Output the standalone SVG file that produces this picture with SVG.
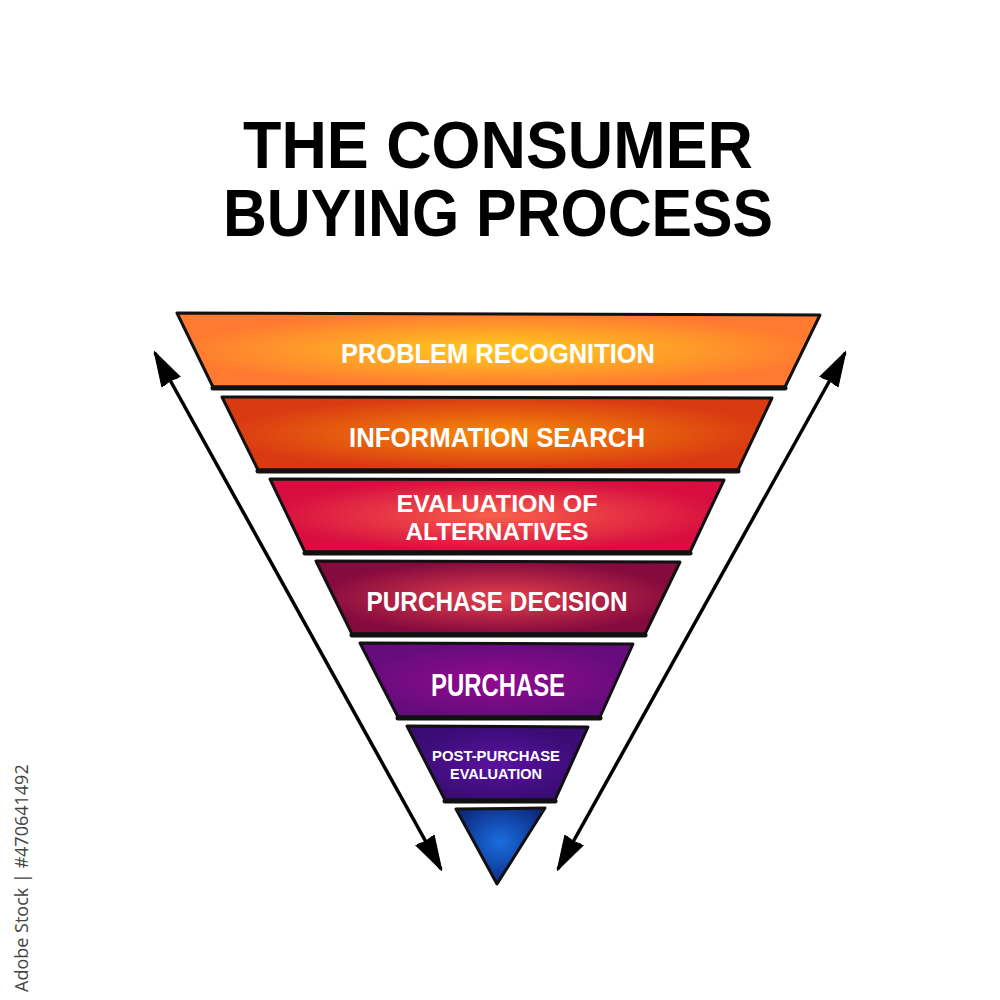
<svg xmlns="http://www.w3.org/2000/svg" width="1000" height="1000" viewBox="0 0 1000 1000">
<style>
.band{stroke:#111;stroke-width:3;stroke-linejoin:round}
.base{stroke:#111;stroke-width:5;stroke-linecap:round;fill:none}
.lbl{font-family:"Liberation Sans","DejaVu Sans",sans-serif;font-weight:bold;fill:#fff;text-anchor:middle}
.title{font-family:"Liberation Sans","DejaVu Sans",sans-serif;font-weight:bold;fill:#000;text-anchor:middle;font-size:66px}
.conn{stroke:#000;stroke-width:3.5;fill:none}
</style>
<defs>
<radialGradient id="g1" cx="0.5" cy="0.5" r="0.5"><stop offset="0" stop-color="#FFCB1E"/><stop offset="1" stop-color="#FF7A30"/></radialGradient>
<radialGradient id="g2" cx="0.5" cy="0.5" r="0.5"><stop offset="0" stop-color="#F7890A"/><stop offset="1" stop-color="#D93A12"/></radialGradient>
<radialGradient id="g3" cx="0.5" cy="0.5" r="0.5"><stop offset="0" stop-color="#F7604A"/><stop offset="1" stop-color="#D80E40"/></radialGradient>
<radialGradient id="g4" cx="0.5" cy="0.5" r="0.5"><stop offset="0" stop-color="#E4404C"/><stop offset="1" stop-color="#850A3E"/></radialGradient>
<radialGradient id="g5" cx="0.5" cy="0.5" r="0.5"><stop offset="0" stop-color="#920A90"/><stop offset="1" stop-color="#660C7C"/></radialGradient>
<radialGradient id="g6" cx="0.5" cy="0.5" r="0.5"><stop offset="0" stop-color="#5A12A0"/><stop offset="1" stop-color="#3A0C74"/></radialGradient>
<radialGradient id="g7" cx="0.5" cy="0.45" r="0.55"><stop offset="0" stop-color="#1A6EE0"/><stop offset="1" stop-color="#0C2C84"/></radialGradient>
<marker id="ah" viewBox="0 0 20 12" refX="19" refY="6" markerWidth="10" markerHeight="6.5" markerUnits="strokeWidth" orient="auto-start-reverse">
<path d="M0,0 L20,6 L0,12 L1,6 Z" fill="#000" stroke="#000" stroke-width="0.6" stroke-linejoin="round"/>
</marker>
</defs>

<g id="title">
<text class="title" x="498" y="168" textLength="510" lengthAdjust="spacingAndGlyphs">THE CONSUMER</text>
<text class="title" x="498" y="236" textLength="550" lengthAdjust="spacingAndGlyphs">BUYING PROCESS</text>
</g>

<g id="connectors">
<line class="conn" x1="155" y1="353" x2="441" y2="869" marker-start="url(#ah)" marker-end="url(#ah)"/>
<line class="conn" x1="845" y1="353" x2="558" y2="869" marker-start="url(#ah)" marker-end="url(#ah)"/>
</g>

<g id="problem-recognition">
<polygon class="band" fill="url(#g1)" points="177,313 820,315 785,387 213,387"/>
<line class="base" x1="213" y1="388" x2="785" y2="388"/>
<text class="lbl" x="498" y="363" font-size="28" textLength="314" lengthAdjust="spacingAndGlyphs">PROBLEM RECOGNITION</text>
</g>

<g id="information-search">
<polygon class="band" fill="url(#g2)" points="222,397 772,398 738,470 258,470"/>
<line class="base" x1="258" y1="471" x2="738" y2="471"/>
<text class="lbl" x="497" y="447" font-size="28" textLength="296" lengthAdjust="spacingAndGlyphs">INFORMATION SEARCH</text>
</g>

<g id="evaluation-of-alternatives">
<polygon class="band" fill="url(#g3)" points="270,479 724,480 690,552 305,552"/>
<line class="base" x1="305" y1="553" x2="690" y2="553"/>
<text class="lbl" x="497" y="512" font-size="24" textLength="201" lengthAdjust="spacingAndGlyphs">EVALUATION OF</text>
<text class="lbl" x="497" y="540" font-size="24" textLength="183" lengthAdjust="spacingAndGlyphs">ALTERNATIVES</text>
</g>

<g id="purchase-decision">
<polygon class="band" fill="url(#g4)" points="316,561 680,562 645,634 352,634"/>
<line class="base" x1="352" y1="635" x2="645" y2="635"/>
<text class="lbl" x="497" y="611" font-size="28" textLength="261" lengthAdjust="spacingAndGlyphs">PURCHASE DECISION</text>
</g>

<g id="purchase">
<polygon class="band" fill="url(#g5)" points="360,643 633,644 600,717 398,717"/>
<line class="base" x1="398" y1="718" x2="600" y2="718"/>
<text class="lbl" x="498" y="696" font-size="31" textLength="134" lengthAdjust="spacingAndGlyphs">PURCHASE</text>
</g>

<g id="post-purchase-evaluation">
<polygon class="band" fill="url(#g6)" points="407,726 588,727 555,800 445,800"/>
<line class="base" x1="445" y1="801" x2="555" y2="801"/>
<text class="lbl" x="496" y="761" font-size="15.5" textLength="128" lengthAdjust="spacingAndGlyphs">POST-PURCHASE</text>
<text class="lbl" x="496" y="779" font-size="15.5" textLength="92" lengthAdjust="spacingAndGlyphs">EVALUATION</text>
</g>

<g id="bottom-tip">
<polygon class="band" fill="url(#g7)" points="456,809 545,808 497,884"/>
</g>

<g id="side-credit">
<text x="28" y="992" transform="rotate(-90 28 992)" font-family="'Open Sans','Noto Sans',sans-serif" font-size="18" fill="#444">Adobe Stock | #470641492</text>
</g>
</svg>
